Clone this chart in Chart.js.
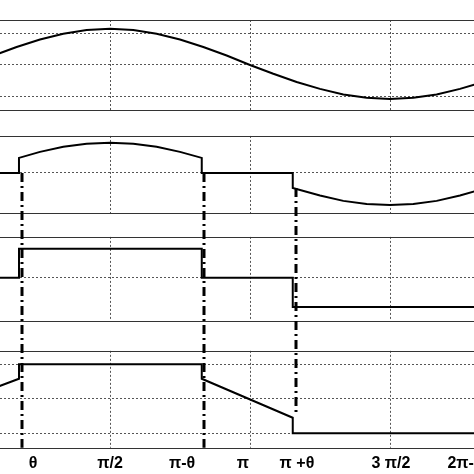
<!DOCTYPE html>
<html><head><meta charset="utf-8">
<script src="https://cdn.jsdelivr.net/npm/chart.js@4"></script>
<style>
html,body{margin:0;padding:0;background:#fff;overflow:hidden;width:474px;height:474px}
#wrap{position:absolute;left:0;top:0;width:560px;height:474px}
</style></head><body>
<div id="wrap"><canvas id="c" width="560" height="474"></canvas></div>
<script>
// angle axis in degrees
const xMin = 19.3, xMax = 379.3;

// Panel 1: supply voltage (sine)
const sineX = [15,30,45,60,75,90,105,120,135,150,165,180,195,210,225,240,255,270,285,300,315,330,345,360,375];
const sineY = [0.30,0.57,0.81,0.99,1.11,1.15,1.11,0.99,0.81,0.57,0.30,0.00,-0.28,-0.54,-0.76,-0.94,-1.04,-1.08,-1.04,-0.94,-0.76,-0.54,-0.28,0.00,0.29];

// Panel 2: chopped sine
const panel2X = [19,31.5,31.5,45,60,75,90,105,120,135,149,149,207.5,207.5,225,240,255,270,285,300,315,330,330,380];
const panel2Y = [0,0,0.50,0.70,0.87,0.97,1.00,0.97,0.87,0.70,0.50,0,0,-0.50,-0.75,-0.93,-1.03,-1.07,-1.03,-0.93,-0.75,-0.53,0,0];

// Panel 3: three-level square wave
const panel3X = [19,31.5,31.5,149,149,207.5,207.5,330,330,380];
const panel3Y = [0,0,1,1,0,0,-1,-1,0,0];

// Panel 4: square with ramp
const panel4X = [19,31.5,31.5,149,149,207.5,207.5,380];
const panel4Y = [0.37,0.58,1,1,0.58,-0.55,-1,-1];

// horizontal grid values per panel
const grid1 = [-1,0,1], grid2 = [0], grid3 = [0], grid4 = [-1,0,1];
// vertical grid (π/2, π, 3π/2, 2π)
const verticalGridX = [90,180,270,360];

// x tick labels
const tickPositions = [40.5,90,136.3,175.5,210.2,270.6,318.2];
const tickLabels = ['θ','π/2','π-θ','π','π +θ','3 π/2','2π-θ'];

// dash-dot marker lines
const markerX = [33.5,150.5,209.5];
const markerTopValue = [0,0,-0.5];     // on panel 2
const markerBottomValue = [-1.42,-1.42,-0.40]; // on panel 4

const gridColor = '#555', frameColor = '#333', lineColor = '#000';

const toPts = (xs, ys) => xs.map((x, i) => ({x, y: ys[i]}));
const ds = (xs, ys, axis) => ({data: toPts(xs, ys), yAxisID: axis, borderColor: lineColor, borderWidth: 2, pointRadius: 0, tension: 0, fill: false});

const panelAxis = (min, max, ticks, weight, stackWeight) => ({
  type: 'linear', position: 'left', stack: 'p', stackWeight, weight, min, max,
  afterBuildTicks: s => { s.ticks = ticks.map(v => ({value: v})); },
  ticks: {display: false},
  grid: {display: true, drawTicks: false, color: gridColor, lineWidth: 1},
  border: {display: false, dash: [2,2]}
});
const gapAxis = (weight, stackWeight) => ({
  type: 'linear', position: 'left', stack: 'p', stackWeight, weight, min: 0, max: 1,
  ticks: {display: false}, grid: {display: false, drawTicks: false}, border: {display: false}
});

const panelIds = ['y1','y2','y3','y4'];

const framePlugin = {
  id: 'frames',
  beforeDatasetsDraw(chart) {
    const ctx = chart.ctx, xs = chart.scales.x, area = chart.chartArea;
    ctx.save();
    panelIds.forEach(id => {
      const s = chart.scales[id];
      ctx.strokeStyle = gridColor; ctx.lineWidth = 1; ctx.setLineDash([2,2]);
      verticalGridX.forEach(v => {
        const px = Math.round(xs.getPixelForValue(v)) + 0.5;
        ctx.beginPath(); ctx.moveTo(px, s.top); ctx.lineTo(px, s.bottom); ctx.stroke();
      });
      ctx.setLineDash([]);
      ctx.strokeStyle = frameColor;
      [s.top, s.bottom].forEach(py => {
        const y = Math.round(py) + 0.5;
        ctx.beginPath(); ctx.moveTo(area.left, y); ctx.lineTo(area.right, y); ctx.stroke();
      });
    });
    ctx.restore();
  },
  afterDatasetsDraw(chart) {
    const ctx = chart.ctx, xs = chart.scales.x, yTop = chart.scales.y2, yBot = chart.scales.y4;
    ctx.save();
    ctx.strokeStyle = lineColor; ctx.lineWidth = 3; ctx.setLineDash([9,4,2,4]);
    markerX.forEach((v, i) => {
      const px = Math.round(xs.getPixelForValue(v));
      ctx.beginPath();
      ctx.moveTo(px, yTop.getPixelForValue(markerTopValue[i]));
      ctx.lineTo(px, yBot.getPixelForValue(markerBottomValue[i]));
      ctx.stroke();
    });
    ctx.restore();
  }
};

new Chart(document.getElementById('c'), {
  type: 'line',
  data: {datasets: [
    ds(sineX, sineY, 'y1'),
    ds(panel2X, panel2Y, 'y2'),
    ds(panel3X, panel3Y, 'y3'),
    ds(panel4X, panel4Y, 'y4')
  ]},
  options: {
    responsive: false, animation: false, devicePixelRatio: 1,
    layout: {padding: {top: 20, left: 0, right: 0, bottom: -5}},
    plugins: {legend: {display: false}, tooltip: {enabled: false}},
    scales: {
      x: {
        type: 'linear', min: xMin, max: xMax,
        afterBuildTicks: s => { s.ticks = tickPositions.map(v => ({value: v})); },
        ticks: {
          autoSkip: false, maxRotation: 0, padding: 6, color: '#000',
          font: {family: 'Liberation Sans', size: 16, weight: 'bold'},
          callback: (v) => { const i = tickPositions.indexOf(v); return i >= 0 ? tickLabels[i] : ''; }
        },
        grid: {display: false, drawTicks: false},
        border: {display: false}
      },
      y1: panelAxis(-1.43, 1.43, grid1, 7, 90),
      g1: gapAxis(6, 26),
      y2: panelAxis(-1.33, 1.23, grid2, 5, 77),
      g2: gapAxis(4, 24),
      y3: panelAxis(-1.48, 1.41, grid3, 3, 84),
      g3: gapAxis(2, 30),
      y4: panelAxis(-1.42, 1.39, grid4, 1, 97)
    }
  },
  plugins: [framePlugin]
});
</script>
</body></html>
